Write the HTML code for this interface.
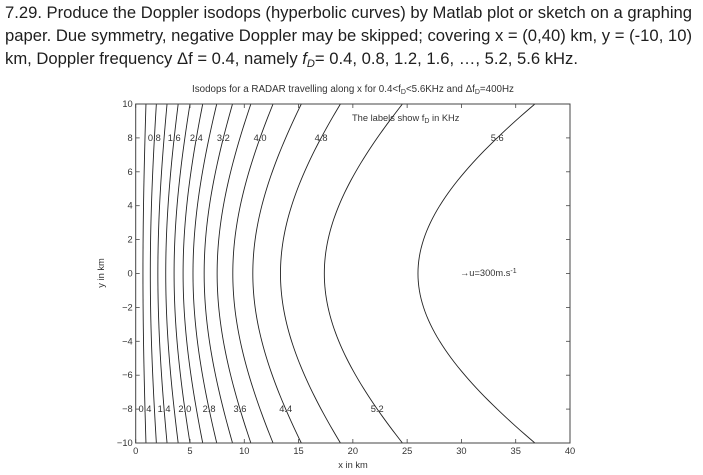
<!DOCTYPE html>
<html><head><meta charset="utf-8"><style>
html,body{margin:0;padding:0;background:#fff;}
svg{display:block;}
.hd{font-family:"Liberation Sans",sans-serif;font-size:16.5px;fill:#1e1e1e;}
.sm{font-family:"Liberation Sans",sans-serif;font-size:9.3px;fill:#333;}
</style></head><body>
<svg id="chart" width="703" height="475" viewBox="0 0 703 475" xmlns="http://www.w3.org/2000/svg">
<text class="hd" x="5" y="18" textLength="687" lengthAdjust="spacingAndGlyphs">7.29.  Produce the Doppler isodops (hyperbolic curves) by Matlab plot or sketch on a graphing</text>
<text class="hd" x="5" y="41" textLength="687" lengthAdjust="spacingAndGlyphs">paper. Due symmetry, negative Doppler may be skipped; covering   x = (0,40) km, y = (-10, 10)</text>
<text class="hd" x="5" y="64" textLength="573" lengthAdjust="spacingAndGlyphs">km, Doppler frequency Δf = 0.4, namely <tspan font-style="italic">f</tspan><tspan font-style="italic" font-size="11" dy="3">D</tspan><tspan dy="-3">= 0.4, 0.8, 1.2, 1.6, …, 5.2, 5.6 kHz.</tspan></text>
<text class="sm" x="353" y="92" text-anchor="middle" style="font-size:9.8px">Isodops for a RADAR travelling along x for 0.4&lt;f<tspan font-size="7" dy="2">D</tspan><tspan dy="-2">&lt;5.6KHz and Δf</tspan><tspan font-size="7" dy="2">D</tspan><tspan dy="-2">=400Hz</tspan></text>
<g id="plot"></g>
<text class="sm" x="353" y="468" text-anchor="middle">x in km</text>
<text class="sm" x="104" y="273" text-anchor="middle" transform="rotate(-90 104 273)">y in km</text>
<text class="sm" x="352" y="121">The labels show f<tspan font-size="7" dy="2">D</tspan><tspan dy="-2"> in KHz</tspan></text>
<text class="sm" x="460" y="276">→u=300m.s<tspan font-size="7" dy="-3">-1</tspan></text>
</svg>
<script>
const levels=[0.4,0.8,1.2,1.6,2.0,2.4,2.8,3.2,3.6,4.0,4.4,4.8,5.2,5.6];
const fMax=[6.0];
const altitude=[10];
const topLabels=["0.8","1.6","2.4","3.2","4.0","4.8","5.6"];
const topLabelLevels=[0.8,1.6,2.4,3.2,4.0,4.8,5.6];
const bottomLabels=["0.4","1.4","2.0","2.8","3.6","4.4","5.2"];
const bottomLabelLevels=[0.4,1.2,2.0,2.8,3.6,4.4,5.2];
const xTicks=[0,5,10,15,20,25,30,35,40];
const yTicks=[-10,-8,-6,-4,-2,0,2,4,6,8,10];

const NS="http://www.w3.org/2000/svg";
const L=135.7,R=570,T=104,B=443;
const sx=v=>L+(v-0)/(40-0)*(R-L);
const sy=v=>B-(v+10)/20*(B-T);
const g=document.getElementById('plot');
function mk(tag,attrs){const e=document.createElementNS(NS,tag);for(const k in attrs)e.setAttribute(k,attrs[k]);g.appendChild(e);return e;}
function xOf(f,y){const F=fMax[0],h=altitude[0];return Math.sqrt(y*y+h*h)*f/Math.sqrt(F*F-f*f);}

const defs=document.createElementNS(NS,'defs');
defs.innerHTML='<clipPath id="clip"><rect x="'+L+'" y="'+T+'" width="'+(R-L)+'" height="'+(B-T)+'"/></clipPath>';
g.appendChild(defs);

levels.forEach((f,i)=>{
  let d="";
  for(let k=0;k<=80;k++){const y=-10+k*0.25;const x=xOf(f,y);d+=(k?"L":"M")+sx(x).toFixed(2)+" "+sy(y).toFixed(2);}
  const p=mk('path',{d:d,fill:'none',stroke:'#222','stroke-width':'0.9'});
  p.setAttribute('clip-path','url(#clip)');
  
  
});

const box=mk('rect',{x:L,y:T,width:R-L,height:B-T,fill:'none',stroke:'#444','stroke-width':'1'});



xTicks.forEach(v=>{
  const x=sx(v);
  const t1=mk('line',{x1:x,y1:B,x2:x,y2:B-4,stroke:'#444','stroke-width':'0.8'});
  
  
  mk('line',{x1:x,y1:T,x2:x,y2:T+4,stroke:'#444','stroke-width':'0.8'});
  const tx=mk('text',{x:x,y:B+11,'text-anchor':'middle',class:'sm'});
  tx.textContent=v;
  
  
});
yTicks.forEach(v=>{
  const y=sy(v);
  const t1=mk('line',{x1:L,y1:y,x2:L+4,y2:y,stroke:'#444','stroke-width':'0.8'});
  
  
  mk('line',{x1:R,y1:y,x2:R-4,y2:y,stroke:'#444','stroke-width':'0.8'});
  const tx=mk('text',{x:L-3,y:y+3,'text-anchor':'end',class:'sm'});
  tx.textContent=(v<0?'\u2212':'')+Math.abs(v);
  
  
});
function labels(names,lv,yv){
  names.forEach((s,i)=>{
    const tx=mk('text',{x:sx(xOf(lv[i],yv)),y:sy(yv)+3,'text-anchor':'middle',class:'sm'});
    tx.textContent=s;
    
    
  });
}
labels(topLabels,topLabelLevels,8);
labels(bottomLabels,bottomLabelLevels,-8);
</script>
</body></html>
